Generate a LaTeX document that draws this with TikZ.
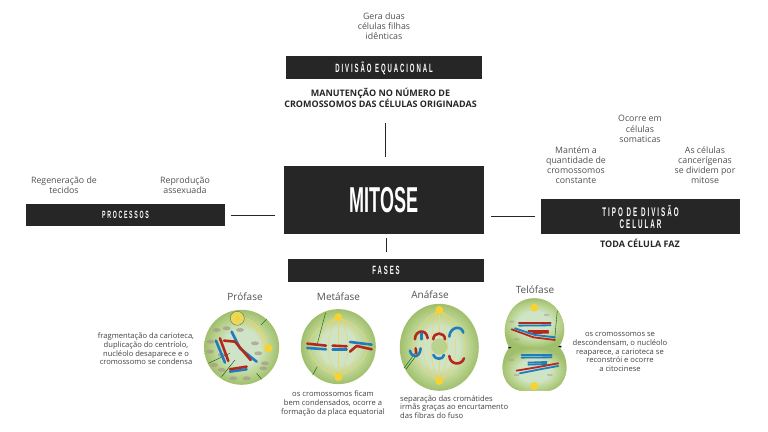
\documentclass[tikz,border=0pt]{standalone}
\usepackage{fontspec}
\setmainfont{Open Sans}
\newfontfamily\headfont[FakeStretch=0.5,LetterSpace=16]{Liberation Sans Bold}
\newfontfamily\bigfont[FakeStretch=0.5]{Liberation Sans Bold}
\usetikzlibrary{calc}

\definecolor{boxdark}{HTML}{262626}
\definecolor{txtgrey}{HTML}{505050}
\definecolor{cellout}{HTML}{A0BF6C}
\definecolor{cellmid}{HTML}{B9D38F}
\definecolor{cellin}{HTML}{CFE4C6}
\definecolor{chrred}{HTML}{B5281F}
\definecolor{chrblue}{HTML}{1F7DBE}
\definecolor{spindle}{HTML}{EFD56B}
\definecolor{sunyel}{HTML}{F6D233}
\definecolor{blobgrey}{HTML}{A89C8C}

\pgfdeclareradialshading{cellshade}{\pgfpointorigin}{color(0bp)=(cellin); color(12bp)=(cellin); color(19bp)=(cellmid); color(25bp)=(cellout); color(50bp)=(cellout)}

\tikzset{
	darkbox/.style={fill=boxdark, inner sep=0pt, text=white, align=center, text depth=0pt},
	note/.style={text=txtgrey, font=\fontsize{8.8}{10.2}\selectfont, align=center, inner sep=0pt},
	small/.style={text=txtgrey!80!black, font=\fontsize{7.6}{8.6}\selectfont, align=center, inner sep=0pt},
	strong/.style={text=boxdark, font=\fontsize{9}{10.8}\bfseries\selectfont, align=center, inner sep=0pt},
	phase/.style={text=txtgrey, font=\fontsize{10}{11}\selectfont, inner sep=0pt},
	link/.style={draw=boxdark, line width=0.8pt},
	red/.style={draw=chrred, line width=2.6pt, line cap=round, line join=round},
	blue/.style={draw=chrblue, line width=2.6pt, line cap=round, line join=round},
	fibre/.style={draw=spindle, line width=0.6pt},
	dark/.style={draw=black!65!green, line width=0.4pt},
	sun/.style={fill=sunyel, draw=none},
	blob/.style={fill=blobgrey, draw=none, opacity=0.75},
	cell/.style={shading=cellshade},
}

\begin{document}
\begin{tikzpicture}[x=1pt, y=-1pt]
	\useasboundingbox (0,0) rectangle (768,431);

	% boxes
	\node[darkbox, minimum width=200pt, minimum height=68pt] (mitose) at (384,200)
		{\fontsize{36}{36}\bigfont MITOSE};
	\node[darkbox, minimum width=196pt, minimum height=23pt] (divisao) at (384,67.5)
		{\fontsize{12}{12}\headfont DIVISÃO EQUACIONAL};
	\node[darkbox, minimum width=196pt, minimum height=23pt] (fases) at (386,270.5)
		{\fontsize{12}{12}\headfont FASES};
	\node[darkbox, minimum width=199pt, minimum height=22pt] (processos) at (125.5,215)
		{\fontsize{10.5}{12}\headfont PROCESSOS};
	\node[darkbox, minimum width=199pt, minimum height=35pt] (tipo) at (640.5,216.5)
		{\fontsize{12.5}{15}\headfont TIPO DE DIVISÃO\\[0pt]\fontsize{12.5}{15}\headfont CELULAR};

	% texts
	\node[note] (gera) at (384,26) {Gera duas\\células filhas\\idênticas};
	\node[strong] (manut) at (380.5,97.5) {MANUTENÇÃO NO NÚMERO DE\\CROMOSSOMOS DAS CÉLULAS ORIGINADAS};
	\node[note] (regen) at (64,185) {Regeneração de\\tecidos};
	\node[note] (repro) at (185,185) {Reprodução\\assexuada};
	\node[note] (mantem) at (576,165) {Mantém a\\quantidade de\\cromossomos\\constante};
	\node[note] (ocorre) at (640,129) {Ocorre em\\células\\somaticas};
	\node[note] (cancer) at (705,165) {As células\\cancerígenas\\se dividem por\\mitose};
	\node[strong] (toda) at (640,243) {TODA CÉLULA FAZ};

	\node[phase] (profase) at (245,296.5) {Prófase};
	\node[phase] (metafase) at (338.5,296.5) {Metáfase};
	\node[phase] (anafase) at (430,295) {Anáfase};
	\node[phase] (telofase) at (535,290) {Telófase};

	\node[small] (txtpro) at (146,349) {fragmentação da carioteca,\\duplicação do centríolo,\\nucléolo desaparece e o\\cromossomo se condensa};
	\node[small] (txtmeta) at (333,403.5) {os cromossomos ficam\\bem condensados, ocorre a\\formação da placa equatorial};
	\node[small, align=left, anchor=west] (txtana) at (400,407) {separação das cromátides\\irmãs graças ao encurtamento\\das fibras do fuso};
	\node[small] (txttelo) at (620,352) {os cromossomos se\\descondensam, o nucléolo\\reaparece, a carioteca se\\reconstrói e ocorre\\a citocinese};

	% connectors
	\draw[link, shorten <=9pt, shorten >=16pt] ([xshift=1.5pt]mitose.north) -- ([xshift=1.5pt]mitose.north |- manut.south);
	\draw[link, shorten <=6pt, shorten >=9pt] (processos.east) -- (processos.east -| mitose.west);
	\draw[link, line width=1.3pt, shorten <=6pt, shorten >=7pt] (tipo.west) -- (tipo.west -| mitose.east);
	\draw[link, shorten <=4pt, shorten >=7pt] (fases.north |- mitose.south) -- (fases.north);

	% cells (coordinates x3)
	\begin{scope}[x=0.3333pt, y=-0.3333pt, shift={(570,840)}]
		% prophase
		\path[cell] (155,202) circle [radius=37.5pt];
		\foreach \a/\b in {62/185, 60/215, 72/255, 95/270, 170/295, 225/250, 205/220, 150/150, 110/145, 80/150, 195/190, 95/225, 130/295, 220/265}
			\fill[blob] (\a,\b) ellipse [x radius=4pt, y radius=2pt];
		\foreach \b in {0,10,20}
			\draw[fibre] (160,115+\b) .. controls (195,115+\b) and (225,160) .. (235-\b,205);
		\draw[dark] (55,250) -- (120,220) (95,290) -- (135,240) (213,135) -- (230,118) (200,280) -- (215,298);
		\fill[sunyel!70!cellin, draw=black!40!cellout, line width=0.4pt] (142,115) circle [radius=7pt];
		\fill[sunyel] (142,115) circle [radius=2.5pt];
		\fill[sun] (235,205) circle [radius=4pt];
		\draw[blue] (78,182) -- (105,248);
		\draw[red] (90,175) -- (115,243);
		\draw[blue] (125,155) -- (150,205) -- (200,245);
		\draw[red] (102,182) -- (135,185) -- (182,240);
		\draw[blue] (120,275) -- (170,268);
		\draw[red] (120,268) -- (170,260);

		% metaphase
		\path[cell] (445,200) circle [radius=37.5pt];
		\foreach \b in {-90,-60,-30,0,30,60,90}
			\draw[fibre] (445,112) .. controls (445+\b*1.3,160) and (445+\b*1.3,240) .. (445,290);
		\draw[dark] (407,98) -- (382,192) (382,260) -- (368,285);
		\fill[sun] (445,112) circle [radius=4pt];
		\fill[sun] (445,291) circle [radius=4pt];
		\draw[blue] (352,204) -- (408,208);
		\draw[red] (352,191) -- (408,197);
		\draw[blue] (428,208) -- (470,208);
		\draw[red] (428,197) -- (470,199);
		\draw[blue] (480,186) -- (545,194);
		\draw[red] (480,215) -- (500,198) -- (545,208);
	\end{scope}

	\begin{scope}[x=0.3333pt, y=-0.3333pt, shift={(1140,840)}]
		% anaphase
		\path[cell] (178,202) ellipse [x radius=39.5pt, y radius=43.5pt];
		\foreach \b in {-95,-60,-30,0,30,60,95}
			\draw[fibre] (178,90) .. controls (178+\b*1.1,150) and (178+\b*1.1,250) .. (178,303);
		\fill[cellmid] (178,200) circle [radius=8pt];
		\draw[dark] (72,265) -- (105,220) (78,268) -- (110,225);
		\fill[sun] (178,90) circle [radius=4pt];
		\fill[sun] (178,303) circle [radius=4pt];
		\draw[red] (105,178) .. controls (105,150) and (140,145) .. (143,175);
		\draw[blue] (125,160) -- (125,178);
		\draw[red] (160,178) .. controls (160,155) and (195,155) .. (195,178);
		\draw[blue] (208,170) .. controls (210,140) and (245,135) .. (250,158);
		\draw[blue] (90,212) .. controls (95,235) and (120,235) .. (122,205);
		\draw[red] (107,205) -- (109,220);
		\draw[blue] (160,225) .. controls (165,240) and (190,240) .. (192,225);
		\draw[red] (208,228) .. controls (210,255) and (245,258) .. (252,235);
		% telophase
		\begin{scope}
			\clip (388,203) .. controls (355,150) and (385,55) .. (463,55)
				.. controls (541,55) and (575,150) .. (537,200)
				.. controls (575,240) and (565,320) .. (510,332)
				-- (420,332) .. controls (360,320) and (355,240) .. (388,203) -- cycle;
			\fill[cellout] (360,50) rectangle (570,340);
			\path[cell] (463,130) ellipse [x radius=33pt, y radius=25pt];
			\path[cell] (463,272) ellipse [x radius=33pt, y radius=23pt];
		\end{scope}
		\fill[black] (385,200) -- (395,203) -- (385,206) -- cycle;
		\fill[black] (544,197) -- (534,200) -- (544,203) -- cycle;
		\draw[dark] (532,92) -- (524,180);
		\fill[sun] (463,83) circle [radius=4pt];
		\fill[sun] (463,318) circle [radius=4pt];
		\draw[red, line width=1.8pt] (417,130) -- (512,130);
		\draw[blue, line width=1.8pt] (417,137) -- (512,136);
		\draw[red, line width=1.8pt] (445,152) -- (505,152);
		\draw[red, line width=1.8pt] (445,160) -- (505,158);
		\draw[red, line width=1.8pt] (395,148) -- (460,172) -- (525,180);
		\draw[blue, line width=1.8pt] (405,145) -- (465,165) -- (525,172);
		\draw[blue, line width=1.8pt] (425,226) -- (515,226);
		\draw[blue, line width=1.8pt] (425,233) -- (515,232);
		\draw[blue, line width=1.8pt] (445,248) -- (500,246);
		\draw[blue, line width=1.8pt] (445,254) -- (500,252);
		\draw[red, line width=1.8pt] (410,272) -- (470,262) -- (535,250);
		\draw[blue, line width=1.8pt] (420,280) -- (470,270) -- (535,258);
		\foreach \a/\b in {395/125, 410/178, 500/105, 395/240, 410/285, 510/285}
			\fill[blob, opacity=0.5] (\a,\b) ellipse [x radius=3pt, y radius=1.2pt];
	\end{scope}
\end{tikzpicture}
\end{document}
